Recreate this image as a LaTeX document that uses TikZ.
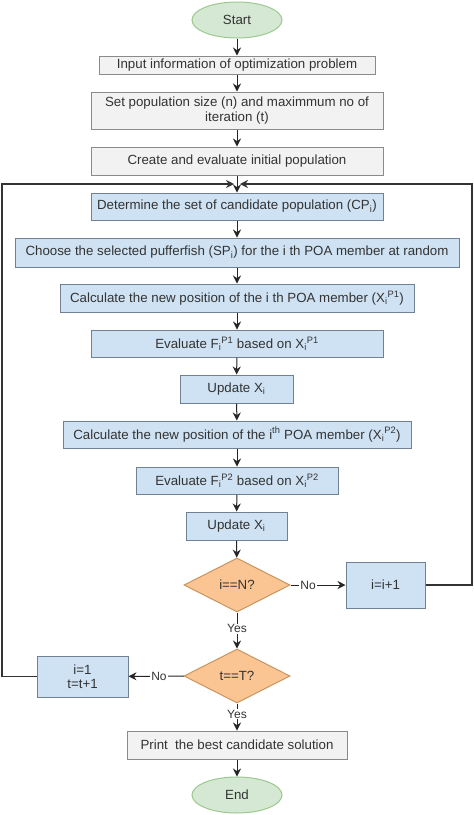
\documentclass[tikz,border=0pt]{standalone}
\usepackage{fontspec}
\setmainfont{Liberation Sans}
\usetikzlibrary{shapes.geometric,arrows.meta}
\definecolor{grayfill}{HTML}{F2F2F2}
\definecolor{graydraw}{HTML}{8A8A8A}
\definecolor{bluefill}{HTML}{CFE2F3}
\definecolor{bluedraw}{HTML}{6F8193}
\definecolor{orfill}{HTML}{FAC592}
\definecolor{ordraw}{HTML}{C8955F}
\definecolor{grfill}{HTML}{D5E8D4}
\definecolor{grdraw}{HTML}{9CC98E}
\definecolor{txt}{HTML}{333333}
\tikzset{
  x=1pt,y=-1pt,
  base/.style={font=\fontsize{13.3}{14.5}\selectfont, text=txt, inner sep=0pt, align=center, line width=1pt},
  graybox/.style={base, rectangle, fill=grayfill, draw=graydraw},
  bluebox/.style={base, rectangle, fill=bluefill, draw=bluedraw},
  decision/.style={base, diamond, fill=orfill, draw=ordraw},
  terminal/.style={base, ellipse, fill=grfill, draw=grdraw},
  conn/.style={line width=1pt, draw=black!85, -{Stealth[length=8pt,width=8pt]}},
  loopline/.style={line width=1.6pt, draw=black!80, -{Stealth[length=8pt,width=8pt]}},
  lbl/.style={font=\fontsize{12}{13}\selectfont, text=txt, fill=white, inner sep=1pt},
}
\newcommand{\bx}[6]{\node[#1, minimum width=#4-#2, minimum height=#5-#3] (#6) at ({(#2+#4)/2},{(#3+#5)/2})}
\begin{document}
\begin{tikzpicture}
\useasboundingbox (0,0) rectangle (474,815);
\fill[white] (0,0) rectangle (474,815);

\bx{terminal}{192}{2}{282}{38}{start} {Start};
\bx{graybox}{99}{56}{375}{74}{input} {Input information of optimization problem};
\bx{graybox}{91}{92}{383}{129}{setpop} {Set population size (n) and maximmum no of\\ iteration (t)};
\bx{graybox}{91}{147}{383}{175}{create} {Create and evaluate initial population};
\bx{bluebox}{91}{193}{383}{220}{determine} {Determine the set of candidate population (CP\textsubscript{i})};
\bx{bluebox}{15}{238}{459}{267}{choose} {Choose the selected pufferfish (SP\textsubscript{i}) for the i th POA member at random};
\bx{bluebox}{60}{284}{414}{312}{calc1} {Calculate the new position of the i th POA member (X\textsubscript{i}\textsuperscript{P1})};
\bx{bluebox}{91}{330}{383}{357}{eval1} {Evaluate F\textsubscript{i}\textsuperscript{P1} based on X\textsubscript{i}\textsuperscript{P1}};
\bx{bluebox}{180}{375}{293}{403}{upd1} {Update X\textsubscript{i}};
\bx{bluebox}{63}{421}{411}{448}{calc2} {Calculate the new position of the i\textsuperscript{th} POA member (X\textsubscript{i}\textsuperscript{P2})};
\bx{bluebox}{136}{467}{338}{494}{eval2} {Evaluate F\textsubscript{i}\textsuperscript{P2} based on X\textsubscript{i}\textsuperscript{P2}};
\bx{bluebox}{186}{512}{287}{540}{upd2} {Update X\textsubscript{i}};
\node[decision, minimum width=106, minimum height=54, aspect=1.96, inner sep=0pt] (dN) at (237,585) {i==N?};
\bx{bluebox}{346}{562}{425}{608}{inc} {i=i+1};
\node[decision, minimum width=106, minimum height=54, aspect=1.96, inner sep=0pt] (dT) at (237,676) {t==T?};
\bx{bluebox}{37}{656}{128}{697}{reset} {i=1\\t=t+1};
\bx{graybox}{127}{731}{347}{759}{print} {Print \ the best candidate solution};
\bx{terminal}{192}{777}{282}{813}{end} {End};

\coordinate (join) at (237,184);
\coordinate (rtop) at (472,184);
\coordinate (ltop) at (2,184);

\draw[conn] (start) -- (input);
\draw[conn] (input) -- (setpop);
\draw[conn] (setpop) -- (create);
\draw[conn] (create) -- (determine);
\draw[conn] (determine) -- (choose);
\draw[conn] (choose) -- (calc1);
\draw[conn] (calc1) -- (eval1);
\draw[conn] (eval1) -- (upd1);
\draw[conn] (upd1) -- (calc2);
\draw[conn] (calc2) -- (eval2);
\draw[conn] (eval2) -- (upd2);
\draw[conn] (upd2) -- (dN);
\draw[conn] (dN) -- node[lbl, pos=0.32] {No} (inc);
\draw[conn] (dN) -- node[lbl, pos=0.45] {Yes} (dT);
\draw[conn] (dT) -- node[lbl, pos=0.45] {No} (reset);
\draw[conn] (dT) -- node[lbl, pos=0.4] {Yes} (print);
\draw[conn] (print) -- (end);
\draw[loopline] (inc.east) -| (rtop) -- ([xshift=3pt]join);
\draw[loopline] (reset.west) -| (ltop) -- ([xshift=-3pt]join);
\end{tikzpicture}
\end{document}
